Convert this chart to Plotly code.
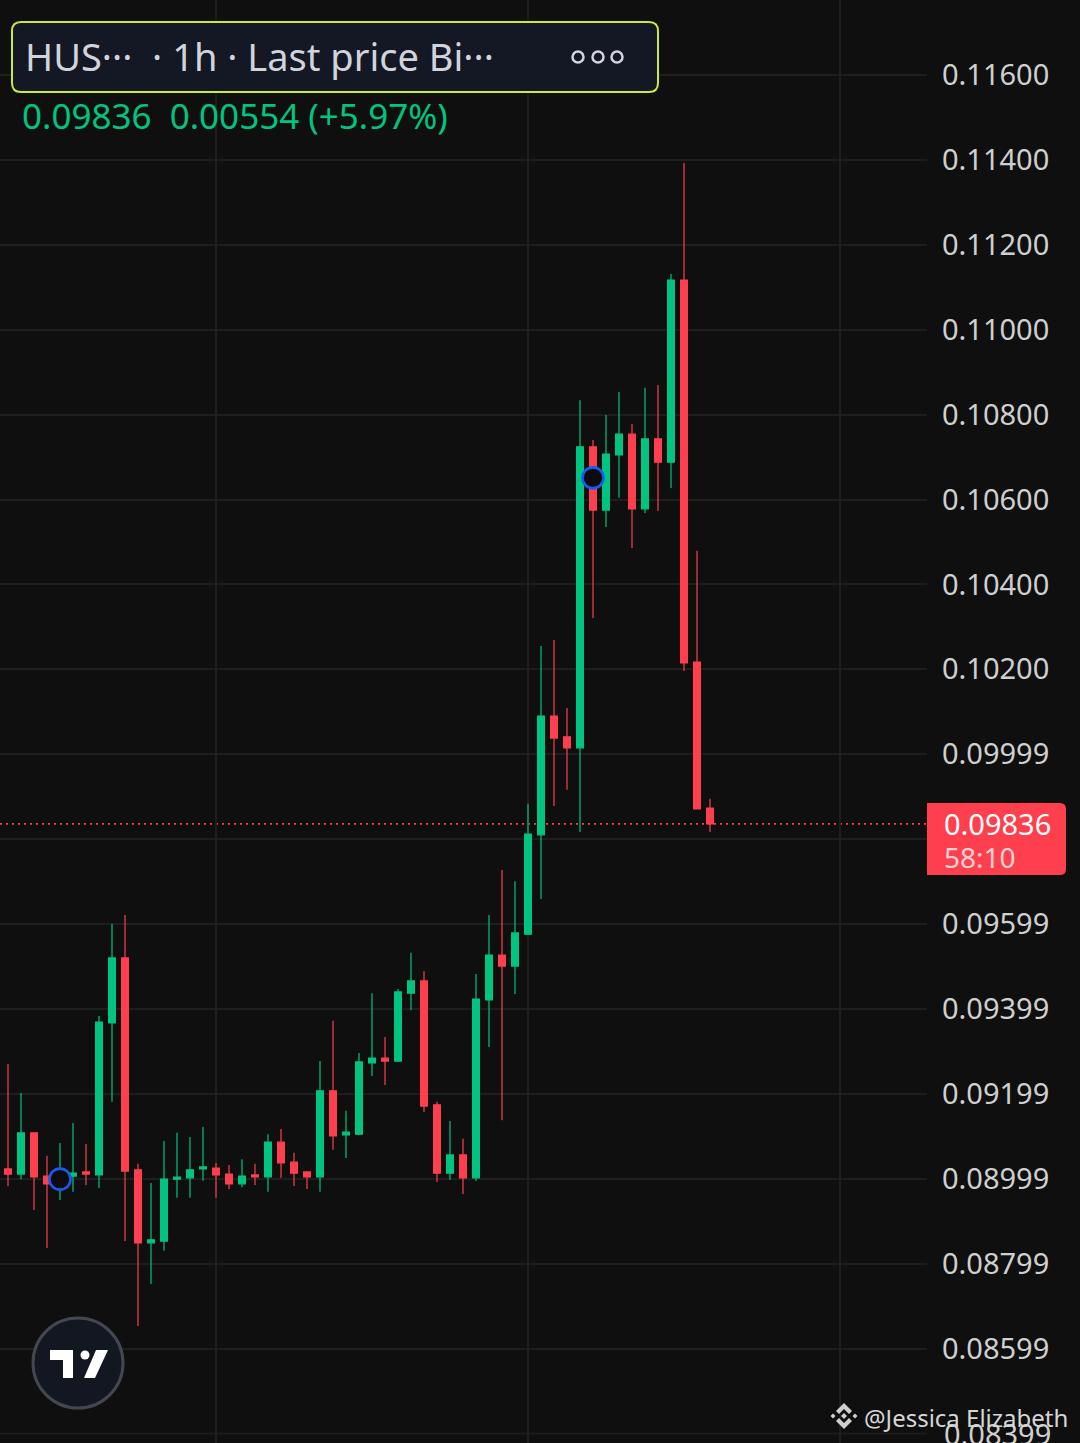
import plotly.graph_objects as go

# ---- data ----
candle_idx = list(range(55))
opens = [0.09023, 0.09011, 0.09108, 0.09006, 0.08988, 0.09006, 0.09016, 0.09009, 0.09367, 0.09520,
         0.09021, 0.08849, 0.08853, 0.08999, 0.09002, 0.09023, 0.09025, 0.09011, 0.08988, 0.09009,
         0.09004, 0.09086, 0.09039, 0.09016, 0.09004, 0.09207, 0.09103, 0.09105, 0.09273, 0.09284,
         0.09277, 0.09437, 0.09466, 0.09174, 0.09013, 0.09056, 0.09002, 0.09421, 0.09527, 0.09501,
         0.09576, 0.09810, 0.10090, 0.10041, 0.10015, 0.10724, 0.10575, 0.10705, 0.10754, 0.10578,
         0.10743, 0.10688, 0.11117, 0.10217, 0.09873]
highs = [0.09270, 0.09202, 0.09108, 0.09054, 0.09084, 0.09131, 0.09082, 0.09383, 0.09600, 0.09621,
         0.09035, 0.08990, 0.09089, 0.09108, 0.09098, 0.09122, 0.09037, 0.09032, 0.09046, 0.09035,
         0.09105, 0.09117, 0.09061, 0.09016, 0.09277, 0.09372, 0.09160, 0.09296, 0.09437, 0.09334,
         0.09447, 0.09532, 0.09489, 0.09181, 0.09136, 0.09094, 0.09482, 0.09621, 0.09727, 0.09701,
         0.09883, 0.10255, 0.10269, 0.10109, 0.10834, 0.10740, 0.10799, 0.10853, 0.10778, 0.10863,
         0.10870, 0.11131, 0.11393, 0.10479, 0.09895]
lows = [0.08983, 0.08999, 0.08926, 0.08837, 0.08950, 0.08969, 0.08985, 0.08978, 0.09181, 0.08853,
        0.08653, 0.08752, 0.08830, 0.08955, 0.08955, 0.08995, 0.08955, 0.08976, 0.08980, 0.08985,
        0.08969, 0.09002, 0.08983, 0.08976, 0.08969, 0.09068, 0.09049, 0.09103, 0.09242, 0.09221,
        0.09275, 0.09397, 0.09157, 0.08992, 0.08997, 0.08964, 0.08995, 0.09310, 0.09138, 0.09435,
        0.09574, 0.09659, 0.09878, 0.09916, 0.09817, 0.10321, 0.10535, 0.10604, 0.10486, 0.10568,
        0.10573, 0.10627, 0.10196, 0.09871, 0.09817]
closes = [0.09011, 0.09108, 0.09004, 0.08988, 0.09006, 0.09013, 0.09011, 0.09369, 0.09520, 0.09018,
          0.08849, 0.08856, 0.08999, 0.09004, 0.09021, 0.09028, 0.09009, 0.08988, 0.09006, 0.09004,
          0.09086, 0.09037, 0.09013, 0.09004, 0.09207, 0.09101, 0.09110, 0.09275, 0.09284, 0.09277,
          0.09440, 0.09466, 0.09171, 0.09013, 0.09056, 0.09002, 0.09423, 0.09527, 0.09501, 0.09579,
          0.09812, 0.10090, 0.10038, 0.10015, 0.10724, 0.10575, 0.10707, 0.10754, 0.10578, 0.10743,
          0.10688, 0.11117, 0.10215, 0.09871, 0.09836]

marker_idx = [4, 45]
marker_price = [0.08999, 0.10651]

tick_vals = [0.116, 0.114, 0.112, 0.110, 0.108, 0.106, 0.104, 0.102, 0.100, 0.098,
             0.096, 0.094, 0.092, 0.090, 0.088, 0.086]
tick_text = ["0.11600", "0.11400", "0.11200", "0.11000", "0.10800", "0.10600", "0.10400",
             "0.10200", "0.09999", "", "0.09599", "0.09399", "0.09199", "0.08999", "0.08799",
             "0.08599"]
bottom_tick_val = 0.084
bottom_tick_text = "0.08399"
day_lines = [16, 40, 64]

last_price = 0.09836
last_price_text = "0.09836"
countdown_text = "58:10"
header_title = "HUS···  · 1h · Last price Bi···"
header_values = "0.09836  0.00554 (+5.97%)"
watermark = "@Jessica Elizabeth"

# ---- styles ----
W, H = 1080, 1443
PLOT_W = 927
BG = "#0f0f0f"
GRID = "#1e1e1e"
GREEN = "#00c47f"
RED = "#fe3f4e"
FONT = "Noto Sans"
AXIS_FONT = 29
Y_MIN, Y_MAX = 0.083774, 0.117767


def X(px):
    return px / PLOT_W


def Y(py):
    return 1 - py / H


def poly(points):
    return "M " + " L ".join(f"{X(a):.6f},{Y(b):.6f}" for a, b in points) + " Z"


def rounded_rect(x0, y0, x1, y1, r, left=True, right=True):
    rl = r if left else 0
    rr = r if right else 0
    p = f"M {X(x0 + rl):.6f},{Y(y0):.6f} L {X(x1 - rr):.6f},{Y(y0):.6f} "
    if rr:
        p += f"Q {X(x1):.6f},{Y(y0):.6f} {X(x1):.6f},{Y(y0 + rr):.6f} "
    p += f"L {X(x1):.6f},{Y(y1 - rr):.6f} "
    if rr:
        p += f"Q {X(x1):.6f},{Y(y1):.6f} {X(x1 - rr):.6f},{Y(y1):.6f} "
    p += f"L {X(x0 + rl):.6f},{Y(y1):.6f} "
    if rl:
        p += f"Q {X(x0):.6f},{Y(y1):.6f} {X(x0):.6f},{Y(y1 - rl):.6f} "
    p += f"L {X(x0):.6f},{Y(y0 + rl):.6f} "
    if rl:
        p += f"Q {X(x0):.6f},{Y(y0):.6f} {X(x0 + rl):.6f},{Y(y0):.6f} "
    return p + "Z"


fig = go.Figure()
fig.add_trace(go.Candlestick(
    x=candle_idx, open=opens, high=highs, low=lows, close=closes,
    increasing=dict(line=dict(color=GREEN, width=1.2), fillcolor=GREEN),
    decreasing=dict(line=dict(color=RED, width=1.2), fillcolor=RED),
    whiskerwidth=0, showlegend=False, hoverinfo="skip",
))
fig.add_trace(go.Scatter(
    x=marker_idx, y=marker_price, mode="markers", showlegend=False, hoverinfo="skip",
    marker=dict(symbol="circle", size=21, color="#0c0c10",
                line=dict(color="#1a5af0", width=2.6)),
))

shapes = []
# bottom grid line (its label is drawn separately)
shapes.append(dict(type="line", xref="paper", yref="y", x0=0, x1=1, y0=bottom_tick_val,
                   y1=bottom_tick_val, line=dict(color=GRID, width=1.5), layer="below"))
# last price dotted line
shapes.append(dict(type="line", xref="paper", yref="y", x0=0, x1=1, y0=last_price, y1=last_price,
                   line=dict(color=RED, width=1.6, dash="2px,4px"), layer="below"))
# price label box
shapes.append(dict(type="path", xref="paper", yref="paper",
                   path=rounded_rect(927, 803, 1066, 875, 6, left=False),
                   fillcolor=RED, line=dict(width=0)))
# header box
shapes.append(dict(type="path", xref="paper", yref="paper",
                   path=rounded_rect(12, 22, 658, 92, 9),
                   fillcolor="#141824", line=dict(color="#c8ea3b", width=2)))
# three-dot menu
for cx in (578, 598, 617):
    shapes.append(dict(type="circle", xref="paper", yref="paper",
                       x0=X(cx - 5.5), x1=X(cx + 5.5), y0=Y(57 + 5.5), y1=Y(57 - 5.5),
                       line=dict(color="#d1d4dc", width=2.5), fillcolor="rgba(0,0,0,0)"))
# TradingView logo
shapes.append(dict(type="circle", xref="paper", yref="paper",
                   x0=X(33), x1=X(123), y0=Y(1408), y1=Y(1318),
                   fillcolor="#131722", line=dict(color="#44474f", width=3)))
shapes.append(dict(type="path", xref="paper", yref="paper",
                   path=poly([(50, 1350), (73, 1350), (73, 1378), (63, 1378), (63, 1360), (50, 1360)]),
                   fillcolor="white", line=dict(width=0)))
shapes.append(dict(type="circle", xref="paper", yref="paper",
                   x0=X(80.5), x1=X(89.5), y0=Y(1359.5), y1=Y(1350.5),
                   fillcolor="white", line=dict(width=0)))
shapes.append(dict(type="path", xref="paper", yref="paper",
                   path=poly([(96, 1350), (108, 1350), (95, 1378), (84, 1378)]),
                   fillcolor="white", line=dict(width=0)))
# Binance icon
ICON = "#d0d0d0"
icon_polys = [
    [(836, 1411), (844, 1403), (852, 1411), (849, 1414), (844, 1409), (839, 1414)],
    [(836, 1421), (844, 1429), (852, 1421), (849, 1418), (844, 1423), (839, 1418)],
    [(844, 1413), (847, 1416), (844, 1419), (841, 1416)],
    [(833, 1413.5), (835.5, 1416), (833, 1418.5), (830.5, 1416)],
    [(855, 1413.5), (857.5, 1416), (855, 1418.5), (852.5, 1416)],
]
for pts in icon_polys:
    shapes.append(dict(type="path", xref="paper", yref="paper", path=poly(pts),
                       fillcolor=ICON, line=dict(width=0)))

annotations = [
    dict(text=header_title, x=X(23), y=Y(56), xref="paper", yref="paper", xanchor="left",
         yanchor="middle", showarrow=False, font=dict(family=FONT, size=38, color="#d1d4dc")),
    dict(text=header_values, x=X(20), y=Y(115), xref="paper", yref="paper", xanchor="left",
         yanchor="middle", showarrow=False, font=dict(family=FONT, size=35, color=GREEN)),
    dict(text=bottom_tick_text, x=X(942), y=bottom_tick_val, xref="paper", yref="y",
         xanchor="left", yanchor="middle", showarrow=False,
         font=dict(family=FONT, size=AXIS_FONT, color="#cfcfcf")),
    dict(text=last_price_text, x=X(942), y=Y(823), xref="paper", yref="paper", xanchor="left",
         yanchor="middle", showarrow=False, font=dict(family=FONT, size=AXIS_FONT, color="white")),
    dict(text=countdown_text, x=X(942), y=Y(857), xref="paper", yref="paper", xanchor="left",
         yanchor="middle", showarrow=False, font=dict(family=FONT, size=AXIS_FONT - 1, color="#ffd3d6")),
    dict(text=watermark, x=X(862), y=Y(1417), xref="paper", yref="paper", xanchor="left",
         yanchor="middle", showarrow=False, font=dict(family=FONT, size=24, color="#d6d6d6")),
]

fig.update_layout(
    width=W, height=H, autosize=False,
    margin=dict(l=0, r=W - PLOT_W, t=0, b=0, pad=0),
    paper_bgcolor=BG, plot_bgcolor=BG,
    boxgap=0.25,
    shapes=shapes, annotations=annotations,
    showlegend=False,
    xaxis=dict(range=[-8 / 13, 919 / 13], tickvals=day_lines, showticklabels=False,
               showgrid=True, gridcolor=GRID, gridwidth=1.5, zeroline=False, showline=False,
               ticks="", rangeslider=dict(visible=False), fixedrange=True),
    yaxis=dict(range=[Y_MIN, Y_MAX], side="right", tickvals=tick_vals, ticktext=tick_text,
               showgrid=True, gridcolor=GRID, gridwidth=1.5, zeroline=False, showline=False,
               ticks="", ticklabelstandoff=14,
               tickfont=dict(family=FONT, size=AXIS_FONT, color="#cfcfcf"), fixedrange=True),
)

fig.write_html("out.html", config={"displayModeBar": False},
               post_script="document.body.style.margin='0';document.body.style.background='#0f0f0f';")
